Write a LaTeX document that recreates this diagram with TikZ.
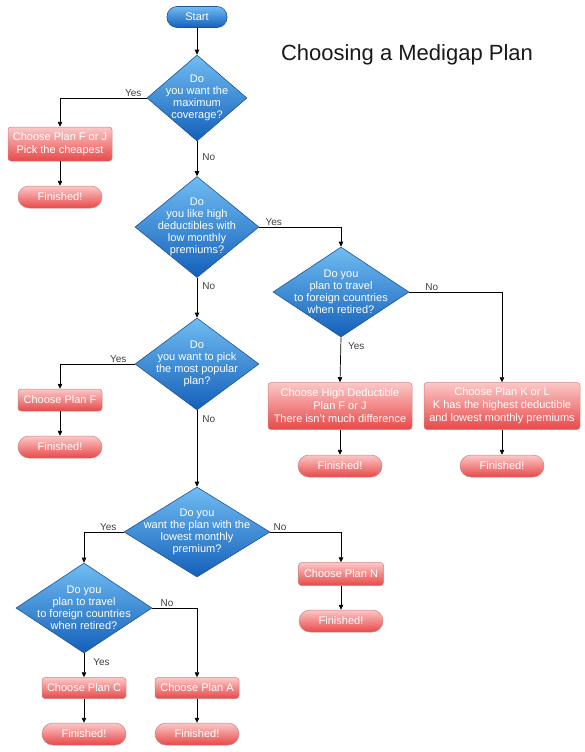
\documentclass[tikz,border=0pt]{standalone}
\usepackage{fontspec}
\setmainfont{Liberation Sans}
\usepackage{tikz}
\usetikzlibrary{arrows.meta,shapes.geometric}
\definecolor{asktop}{RGB}{112,188,242}
\definecolor{askbot}{RGB}{20,96,186}
\definecolor{askline}{RGB}{32,84,150}
\definecolor{plantop}{RGB}{252,200,200}
\definecolor{planbot}{RGB}{232,72,72}
\definecolor{planline}{RGB}{205,130,130}
\newcommand{\askbox}[5]{%
  \node[ask,minimum width=#3,minimum height=#4] (#1) at (#2) {};%
  \node[asktext] (#1txt) at (#1) {#5};%
}

\begin{document}
\begin{tikzpicture}[x=1pt,y=-1pt,
  ask/.style={diamond,draw=askline,line width=0.6pt,top color=asktop,bottom color=askbot,inner sep=0pt},
  asktext/.style={text=white,align=center,font=\fontsize{11}{12}\selectfont,inner sep=0pt},
  plan/.style={rectangle,rounded corners=3pt,draw=planline,line width=0.5pt,top color=plantop,bottom color=planbot,
    text=white,align=center,font=\fontsize{11}{13}\selectfont,inner sep=0pt},
  fin/.style={plan,rounded corners=11pt,minimum width=84,minimum height=22},
  startpill/.style={rectangle,rounded corners=10pt,draw=askline,line width=0.6pt,top color=asktop,bottom color=askbot,
    text=white,font=\fontsize{11}{12}\selectfont,minimum width=60,minimum height=21,inner sep=0pt},
  flow/.style={draw=black,line width=0.7pt,-{Triangle[length=5pt,width=4.5pt]}},
  yn/.style={font=\fontsize{10}{12}\selectfont,text=black!75,inner sep=1pt}]
  \useasboundingbox (0,0) rectangle (585,752);

  \node[font=\fontsize{22}{25}\selectfont,text=black!90] (ttl) at (407,55) {Choosing a Medigap Plan};
  \node[startpill] (start) at (197,17) {Start};

  % questions
  \askbox{d1}{197,98}{100}{86}{Do\\you want the\\maximum\\coverage?}
  \askbox{d2}{197,227}{124}{101}{Do\\you like high\\deductibles with\\low monthly\\premiums?}
  \askbox{d3}{341,292}{136}{90}{Do you\\plan to travel\\to foreign countries\\when retired?}
  \askbox{d4}{197,364}{124}{92}{Do\\you want to pick\\the most popular\\plan?}
  \askbox{d5}{197,532}{146}{90}{Do you\\want the plan with the\\lowest monthly\\premium?}
  \askbox{d6}{84,608}{136}{90}{Do you\\plan to travel\\to foreign countries\\when retired?}

  % plans
  \node[plan,minimum width=104,minimum height=34] (pfj) at (60,144) {Choose Plan F or J\\Pick the cheapest};
  \node[fin] (fin1) at (60,197) {Finished!};
  \node[plan,minimum width=84,minimum height=22] (pf) at (60,400) {Choose Plan F};
  \node[fin] (fin2) at (60,447) {Finished!};
  \node[plan,minimum width=144,minimum height=47] (phd) at (340,406) {Choose High Deductible\\Plan F or J\\There isn't much difference};
  \node[fin] (fin3) at (340,466) {Finished!};
  \node[plan,minimum width=156,minimum height=47] (pkl) at (502,406) {Choose Plan K or L\\K has the highest deductible\\and lowest monthly premiums};
  \node[fin] (fin4) at (502,466) {Finished!};
  \node[plan,minimum width=85,minimum height=23] (pn) at (341,574) {Choose Plan N};
  \node[fin] (fin5) at (341,621) {Finished!};
  \node[plan,minimum width=84,minimum height=21] (pc) at (84,688) {Choose Plan C};
  \node[fin] (fin6) at (84,734) {Finished!};
  \node[plan,minimum width=84,minimum height=21] (pa) at (197,688) {Choose Plan A};
  \node[fin] (fin7) at (197,734) {Finished!};

  % connectors
  \draw[flow] (start) -- (d1);
  \draw[flow] (d1.west) -| node[yn,pos=0,anchor=south east,xshift=-4pt]{Yes} (pfj.north);
  \draw[flow] (pfj) -- (fin1);
  \draw[flow] (d1.south) -- node[yn,pos=0.45,anchor=west,xshift=4pt]{No} (d2.north);
  \draw[flow] (d2.east) -| node[yn,pos=0,anchor=south west,xshift=5pt]{Yes} (d3.north);
  \draw[flow] (d3.east) -| node[yn,pos=0.08,anchor=south west]{No} (pkl.north);
  \draw[flow] (d3.south) -- node[yn,pos=0.2,anchor=west,xshift=6pt]{Yes} (phd.north);
  \draw[flow] (phd) -- (fin3);
  \draw[flow] (pkl) -- (fin4);
  \draw[flow] (d2.south) -- node[yn,pos=0.2,anchor=west,xshift=4pt]{No} (d4.north);
  \draw[flow] (d4.west) -| node[yn,pos=0,anchor=south east,xshift=-7pt]{Yes} (pf.north);
  \draw[flow] (pf) -- (fin2);
  \draw[flow] (d4.south) -- node[yn,pos=0.12,anchor=west,xshift=4pt]{No} (d5.north);
  \draw[flow] (d5.west) -| node[yn,pos=0,anchor=south east,xshift=-6pt]{Yes} (d6.north);
  \draw[flow] (d5.east) -| node[yn,pos=0,anchor=south west,xshift=2pt]{No} (pn.north);
  \draw[flow] (pn) -- (fin5);
  \draw[flow] (d6.east) -| node[yn,pos=0,anchor=south west,xshift=7pt]{No} (pa.north);
  \draw[flow] (d6.south) -- node[yn,pos=0.35,anchor=west,xshift=8pt]{Yes} (pc.north);
  \draw[flow] (pc) -- (fin6);
  \draw[flow] (pa) -- (fin7);
\end{tikzpicture}
\end{document}
